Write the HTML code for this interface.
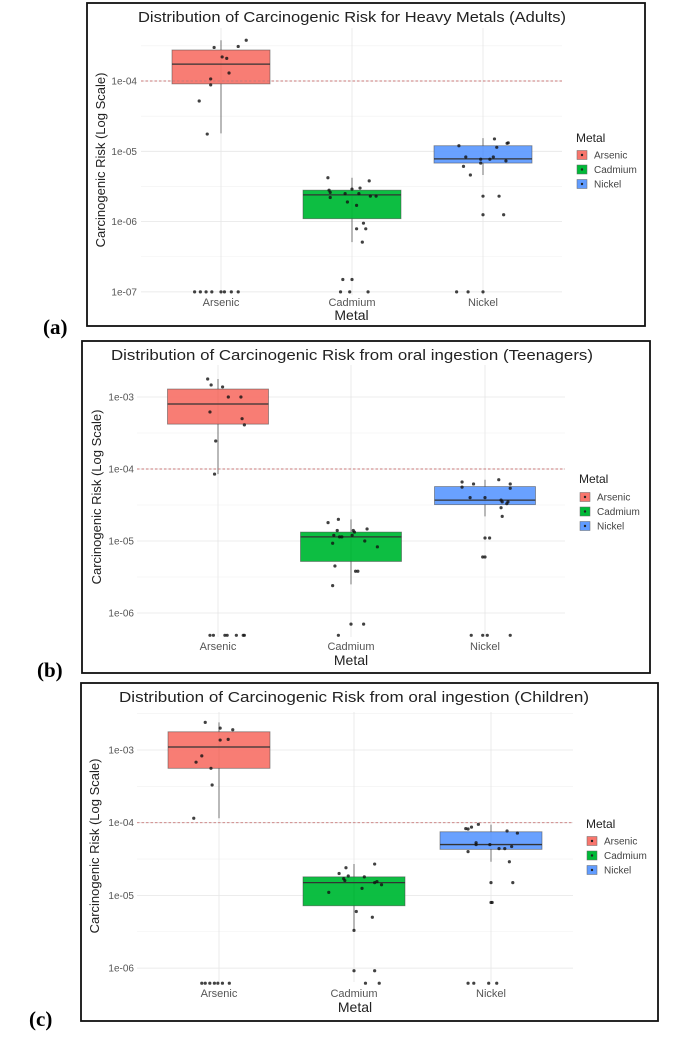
<!DOCTYPE html>
<html><head><meta charset="utf-8">
<style>
html,body{margin:0;padding:0;background:#fff;}
svg{display:block;font-family:"Liberation Sans",sans-serif;}
</style></head>
<body>
<svg id="chart" width="685" height="1039" viewBox="0 0 685 1039" xmlns="http://www.w3.org/2000/svg">
<rect x="0" y="0" width="685" height="1039" fill="#fff"/>
</svg>
<script>
// ===== DATA =====
const categories = ["Arsenic", "Cadmium", "Nickel"];
const legendLabels = ["Arsenic", "Cadmium", "Nickel"];
const thresholdValue = 1e-4;

// Panel (a) Adults: box stats [whiskerLow, q1, median, q3, whiskerHigh]
const boxA = [
  [1.8e-5, 9.1e-5, 1.74e-4, 2.76e-4, 3.8e-4],
  [5.1e-7, 1.1e-6, 2.4e-6, 2.8e-6, 4.2e-6],
  [4.6e-6, 6.8e-6, 7.8e-6, 1.2e-5, 1.54e-5]
];
const ticksA = [1e-4, 1e-5, 1e-6, 1e-7];
const tickLabelsA = ["1e-04", "1e-05", "1e-06", "1e-07"];
// points: [jitter, value]
const ptsArsenicA = [[-6,3.0e-4],[15,3.1e-4],[22,3.8e-4],[1,2.2e-4],[5,2.1e-4],[7,1.3e-4],[-9,1.07e-4],[-9,8.8e-5],[-19,5.2e-5],[-12,1.76e-5],[-23,1e-7],[-18,1e-7],[-13,1e-7],[-8,1e-7],[0,1e-7],[3,1e-7],[9,1e-7],[15,1e-7]];
const ptsCadmiumA = [[-21,4.2e-6],[-20,2.8e-6],[-19,2.6e-6],[-19,2.2e-6],[-6,2.5e-6],[-4,1.9e-6],[0,2.9e-6],[4,1.7e-6],[7,3.0e-6],[6,2.5e-6],[15,3.8e-6],[16,2.3e-6],[21,2.3e-6],[10,9.5e-7],[4,7.9e-7],[12,7.9e-7],[9,5.1e-7],[-8,1.5e-7],[0,1.5e-7],[-10,1e-7],[-2,1e-7],[14,1e-7]];
const ptsNickelA = [[-21,1.2e-5],[-15,8.3e-6],[-2,7.7e-6],[-2,6.8e-6],[6,7.7e-6],[9,8.3e-6],[10,1.5e-5],[12,1.14e-5],[21,1.3e-5],[22,1.32e-5],[20,7.3e-6],[-17,6.1e-6],[-11,4.6e-6],[0,2.3e-6],[14,2.3e-6],[0,1.25e-6],[18,1.25e-6],[-23,1e-7],[-13,1e-7],[0,1e-7]];

// Panel (b) Teenagers
const boxB = [
  [8.5e-5, 4.2e-4, 8.0e-4, 1.29e-3, 1.78e-3],
  [2.5e-6, 5.2e-6, 1.14e-5, 1.33e-5, 2.0e-5],
  [2.2e-5, 3.2e-5, 3.7e-5, 5.7e-5, 7.1e-5]
];
const ticksB = [1e-3, 1e-4, 1e-5, 1e-6];
const tickLabelsB = ["1e-03", "1e-04", "1e-05", "1e-06"];
const ptsArsenicB = [[-9,1.78e-3],[-6,1.47e-3],[4,1.38e-3],[9,1.0e-3],[20,1.0e-3],[-7,6.2e-4],[21,5e-4],[23,4.1e-4],[-2,2.45e-4],[-3,8.5e-5],[-7,4.9e-7],[-4,4.9e-7],[6,4.9e-7],[8,4.9e-7],[16,4.9e-7],[22,4.9e-7],[23,4.9e-7]];
const ptsCadmiumB = [[-20,1.8e-5],[-11,2.0e-5],[-12,1.4e-5],[-15,1.2e-5],[-10,1.14e-5],[-8,1.14e-5],[2,1.4e-5],[3,1.33e-5],[1,1.2e-5],[14,1.47e-5],[12,1.0e-5],[-16,9.3e-6],[23,8.3e-6],[-14,4.5e-6],[4,3.8e-6],[6,3.8e-6],[-16,2.4e-6],[0,7e-7],[11,7e-7],[-11,4.9e-7]];
const ptsNickelB = [[-20,6.6e-5],[-20,5.6e-5],[-10,6.2e-5],[12,7.1e-5],[22,6.2e-5],[22,5.4e-5],[-13,4e-5],[0,4e-5],[14,3.7e-5],[15,3.5e-5],[19,3.3e-5],[20,3.5e-5],[14,2.9e-5],[15,2.2e-5],[0,1.1e-5],[4,1.1e-5],[-2,6e-6],[0,6e-6],[-12,4.9e-7],[-2,4.9e-7],[2,4.9e-7],[22,4.9e-7]];

// Panel (c) Children
const boxC = [
  [1.15e-4, 5.6e-4, 1.1e-3, 1.78e-3, 2.4e-3],
  [3.3e-6, 7.2e-6, 1.5e-5, 1.8e-5, 2.7e-5],
  [2.9e-5, 4.3e-5, 5.0e-5, 7.5e-5, 9.4e-5]
];
const ticksC = [1e-3, 1e-4, 1e-5, 1e-6];
const tickLabelsC = ["1e-03", "1e-04", "1e-05", "1e-06"];
const ptsArsenicC = [[-12,2.4e-3],[1,2.0e-3],[12,1.9e-3],[1,1.37e-3],[8,1.4e-3],[-15,8.3e-4],[-20,6.8e-4],[-7,5.6e-4],[-6,3.3e-4],[-22,1.15e-4],[-15,6.2e-7],[-12,6.2e-7],[-8,6.2e-7],[-4,6.2e-7],[-1,6.2e-7],[3,6.2e-7],[9,6.2e-7]];
const ptsCadmiumC = [[-7,2.4e-5],[18,2.7e-5],[-13,2e-5],[-9,1.7e-5],[-8,1.6e-5],[-5,1.85e-5],[9,1.8e-5],[18,1.5e-5],[20,1.55e-5],[24,1.4e-5],[7,1.25e-5],[-22,1.1e-5],[2,6e-6],[16,5e-6],[0,3.3e-6],[0,9.2e-7],[18,9.2e-7],[10,6.2e-7],[22,6.2e-7]];
const ptsNickelC = [[-22,8.3e-5],[-20,8.2e-5],[-17,8.7e-5],[-11,9.5e-5],[14,7.7e-5],[23,7.2e-5],[-13,5.3e-5],[-13,5e-5],[-1,5e-5],[7,4.4e-5],[12,4.4e-5],[18,4.7e-5],[-20,4e-5],[16,2.9e-5],[0,1.5e-5],[19,1.5e-5],[0,8e-6],[1,8e-6],[-20,6.2e-7],[-15,6.2e-7],[-2,6.2e-7],[5,6.2e-7]];

// ===== LAYOUT =====
const svg = document.getElementById('chart');
const NS = "http://www.w3.org/2000/svg";
const fills = ["#F8766D", "#00BA38", "#619CFF"];
function mk(tag, attrs, parent) {
  const e = document.createElementNS(NS, tag);
  for (const k in attrs) e.setAttribute(k, attrs[k]);
  (parent || svg).appendChild(e);
  return e;
}

const panels = [
  {id:"a", title:"Distribution of Carcinogenic Risk for Heavy Metals (Adults)", frame:[87,3,645,326],
   gridX:[141,562], gridY:[28,295], refVal:1e-4, refY:81, decade:70.3, centers:[221,352,483], boxW:98,
   titleX:352, titleY:22, titleLen:428, tickRight:137, yTitleX:105, yTitleY:160, xLabY:306, xTitleY:320,
   legX:577, legTitleY:142, legRow0:155, legStep:14.5, labelTag:"(a)", labelX:43, labelY:334,
   boxes:boxA, ticks:ticksA, tickLabels:tickLabelsA, pts:[ptsArsenicA, ptsCadmiumA, ptsNickelA]},
  {id:"b", title:"Distribution of Carcinogenic Risk from oral ingestion (Teenagers)", frame:[82,341,650,673],
   gridX:[137,565], gridY:[365,637], refVal:1e-3, refY:397, decade:72, centers:[218,351,485], boxW:101,
   titleX:352, titleY:360, titleLen:482, tickRight:134, yTitleX:101, yTitleY:497, xLabY:650, xTitleY:665,
   legX:580, legTitleY:483, legRow0:497, legStep:14.5, labelTag:"(b)", labelX:37, labelY:677,
   boxes:boxB, ticks:ticksB, tickLabels:tickLabelsB, pts:[ptsArsenicB, ptsCadmiumB, ptsNickelB]},
  {id:"c", title:"Distribution of Carcinogenic Risk from oral ingestion (Children)", frame:[81,683,658,1021],
   gridX:[137,573], gridY:[712,982], refVal:1e-3, refY:750, decade:72.7, centers:[219,354,491], boxW:102,
   titleX:354, titleY:702, titleLen:470, tickRight:134, yTitleX:99, yTitleY:846, xLabY:997, xTitleY:1012,
   legX:587, legTitleY:828, legRow0:841, legStep:14.5, labelTag:"(c)", labelX:29, labelY:1026,
   boxes:boxC, ticks:ticksC, tickLabels:tickLabelsC, pts:[ptsArsenicC, ptsCadmiumC, ptsNickelC]}
];
const jitterScale = 1.147;

panels.forEach(p => {
  const g = mk('g', {});
  
  
  const yOf = v => p.refY - (Math.log10(v) - Math.log10(p.refVal)) * p.decade;
  const xOf = i => p.centers[i];

  const grid = mk('g', {}, g);
  
  
  const eTop = Math.log10(p.refVal) + (p.refY - p.gridY[0]) / p.decade;
  const eBot = Math.log10(p.refVal) - (p.gridY[1] - p.refY) / p.decade;
  for (let e = Math.ceil(eBot * 2) / 2; e <= eTop; e += 0.5) {
    const y = yOf(Math.pow(10, e));
    const major = Math.abs(e - Math.round(e)) < 1e-6;
    const ln = mk('line', {x1:p.gridX[0], x2:p.gridX[1], y1:y, y2:y, stroke: major ? "#e6e6e6" : "#f0f0f0", 'stroke-width': major ? 0.8 : 0.6}, grid);
    
    
  }
  categories.forEach((c, i) => {
    const ln = mk('line', {x1:xOf(i), x2:xOf(i), y1:p.gridY[0], y2:p.gridY[1], stroke:"#e6e6e6", 'stroke-width':0.8}, grid);
    
    
  });

  p.boxes.forEach((b, i) => {
    const bg = mk('g', {}, g);
    
    
    const cx = xOf(i);
    const w1 = mk('line', {x1:cx, x2:cx, y1:yOf(b[4]), y2:yOf(b[0]), stroke:"#555", 'stroke-width':0.8}, bg);
    
    
    const r = mk('rect', {x:cx - p.boxW/2, y:yOf(b[3]), width:p.boxW, height:yOf(b[1]) - yOf(b[3]), fill:fills[i], 'fill-opacity':0.95, stroke:"#444", 'stroke-opacity':0.6, 'stroke-width':0.8}, bg);
    
    
    const m = mk('line', {x1:cx - p.boxW/2, x2:cx + p.boxW/2, y1:yOf(b[2]), y2:yOf(b[2]), stroke:"#333", 'stroke-width':1.3}, bg);
    
    
  });

  const th = mk('line', {x1:p.gridX[0], x2:p.gridX[1], y1:yOf(thresholdValue), y2:yOf(thresholdValue), stroke:"#c97a7a", 'stroke-width':0.9, 'stroke-dasharray':'2.5,2'}, g);
  
  

  p.pts.forEach((arr, i) => {
    arr.forEach(pt => {
      const c = mk('circle', {cx: xOf(i) + pt[0] * jitterScale, cy: yOf(pt[1]), r:1.6, fill:"#111", 'fill-opacity':0.8}, g);
      
      
    });
  });

  p.ticks.forEach((t, k) => {
    const tx = mk('text', {x:p.tickRight, y:yOf(t) + 3.5, 'text-anchor':'end', 'font-size':10, fill:"#555"}, g);
    tx.textContent = p.tickLabels[k];
    
    
  });
  categories.forEach((c, i) => {
    const tx = mk('text', {x:xOf(i), y:p.xLabY, 'text-anchor':'middle', 'font-size':11, fill:"#555"}, g);
    tx.textContent = c;
    
    
  });
  const xt = mk('text', {x:(p.gridX[0] + p.gridX[1]) / 2, y:p.xTitleY, 'text-anchor':'middle', 'font-size':14, fill:"#222"}, g);
  xt.textContent = "Metal";
  
  
  const yt = mk('text', {x:0, y:0, 'text-anchor':'middle', 'font-size':13, fill:"#222", transform:`translate(${p.yTitleX},${p.yTitleY}) rotate(-90)`}, g);
  yt.textContent = "Carcinogenic Risk (Log Scale)";
  
  

  const tt = mk('text', {x:p.titleX, y:p.titleY, 'text-anchor':'middle', 'font-size':15, fill:"#222", textLength:p.titleLen, lengthAdjust:'spacingAndGlyphs'}, g);
  tt.textContent = p.title;
  
  

  const lg = mk('g', {}, g);
  
  
  const lt = mk('text', {x:p.legX - 1, y:p.legTitleY, 'font-size':12, fill:"#222"}, lg);
  lt.textContent = "Metal";
  
  
  legendLabels.forEach((l, i) => {
    const cy = p.legRow0 + i * p.legStep;
    const e = mk('g', {}, lg);
    
    
    const r = mk('rect', {x:p.legX, y:cy - 4.5, width:10, height:9, fill:fills[i], stroke:"#666", 'stroke-width':0.5}, e);
    
    
    const d = mk('circle', {cx:p.legX + 5, cy:cy, r:1.2, fill:"#222"}, e);
    
    
    const tx = mk('text', {x:p.legX + 17, y:cy + 3.5, 'font-size':10, fill:"#444"}, e);
    tx.textContent = l;
    
    
  });

  const f = p.frame;
  const fr = mk('rect', {x:f[0], y:f[1], width:f[2] - f[0], height:f[3] - f[1], fill:"none", stroke:"#111", 'stroke-width':1.8}, g);
  
  

  const pl = mk('text', {x:p.labelX, y:p.labelY, 'font-size':21, 'font-weight':'bold', 'font-family':'"Liberation Serif", serif', fill:"#000"}, g);
  pl.textContent = p.labelTag;
  
  
});
</script>
</body></html>
